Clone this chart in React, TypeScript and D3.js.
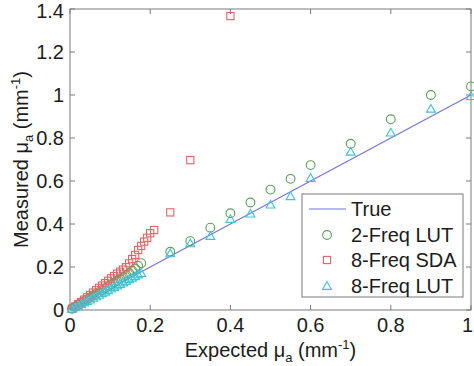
import React from "react";
import * as d3 from "d3";

const xTicks = [0, 0.2, 0.4, 0.6, 0.8, 1];
const yTicks = [0, 0.2, 0.4, 0.6, 0.8, 1, 1.2, 1.4];
const xTickLabels = ["0", "0.2", "0.4", "0.6", "0.8", "1"];
const yTickLabels = ["0", "0.2", "0.4", "0.6", "0.8", "1", "1.2", "1.4"];

const trueX = [0, 1];
const trueY = [0, 1];

const lut2X = [0.005, 0.0125, 0.02, 0.0275, 0.035, 0.0425, 0.05, 0.0575, 0.065, 0.0725, 0.08, 0.0875, 0.095, 0.1025, 0.11, 0.1175, 0.125, 0.1325, 0.14, 0.1475, 0.155, 0.1625, 0.17, 0.1775,
  0.25, 0.3, 0.35, 0.4, 0.45, 0.5, 0.55, 0.6, 0.7, 0.8, 0.9, 1.0];
const lut2Y = [0.006, 0.014, 0.023, 0.031, 0.040, 0.049, 0.057, 0.066, 0.075, 0.083, 0.092, 0.101, 0.109, 0.119, 0.127, 0.136, 0.145, 0.154, 0.163, 0.172, 0.183, 0.193, 0.205, 0.218,
  0.271, 0.32, 0.383, 0.45, 0.5, 0.56, 0.61, 0.674, 0.773, 0.887, 1.0, 1.04];

const sdaX = [0.005, 0.0125, 0.02, 0.0275, 0.035, 0.0425, 0.05, 0.0575, 0.065, 0.0725, 0.08, 0.0875, 0.095, 0.1025, 0.11, 0.1175, 0.125, 0.1325, 0.14, 0.1475, 0.155, 0.1625, 0.17, 0.1775, 0.185, 0.1925, 0.2, 0.21, 0.25, 0.3, 0.4];
const sdaY = [0.006, 0.016, 0.027, 0.037, 0.048, 0.059, 0.070, 0.081, 0.092, 0.103, 0.114, 0.125, 0.136, 0.147, 0.158, 0.169, 0.178, 0.188, 0.199, 0.217, 0.237, 0.256, 0.279, 0.298, 0.318, 0.336, 0.357, 0.372, 0.454, 0.697, 1.367];

const lut8X = [0.005, 0.0125, 0.02, 0.0275, 0.035, 0.0425, 0.05, 0.0575, 0.065, 0.0725, 0.08, 0.0875, 0.095, 0.1025, 0.11, 0.1175, 0.125, 0.1325, 0.14, 0.1475, 0.155, 0.1625, 0.17, 0.1775,
  0.25, 0.3, 0.35, 0.4, 0.45, 0.5, 0.55, 0.6, 0.7, 0.8, 0.9, 1.0];
const lut8Y = [0.005, 0.012, 0.019, 0.027, 0.034, 0.041, 0.048, 0.056, 0.063, 0.070, 0.078, 0.085, 0.092, 0.099, 0.107, 0.114, 0.121, 0.128, 0.135, 0.143, 0.150, 0.157, 0.165, 0.172,
  0.263, 0.31, 0.344, 0.423, 0.448, 0.49, 0.529, 0.614, 0.736, 0.825, 0.936, 0.995];

const legendLabels = ["True", "2-Freq LUT", "8-Freq SDA", "8-Freq LUT"];

const W = 474, H = 366;
const L = 70, R = 471, T = 9, B = 310;
const FONT = "Liberation Sans, Arial, sans-serif";
const C_LINE = "#7474e4";
const C_GREEN = "#5aa05a";
const C_RED = "#e26464";
const C_CYAN = "#40c4d4";
const C_AX = "#7a7a7a";
const C_TXT = "#1c1c1c";

export default function App() {
  const x = d3.scaleLinear().domain([0, 1]).range([L, R]);
  const y = d3.scaleLinear().domain([0, 1.4]).range([B, T]);
  const line = d3.line<number>().x((d, i) => x(trueX[i])).y((d, i) => y(d));
  const tri = d3.symbol().type(d3.symbolTriangle).size(34)() as string;
  const tk = 5;

  const circle = (cx: number, cy: number, k: string) => (
    <circle key={k} cx={cx} cy={cy} r={4.4} fill="none" stroke={C_GREEN} strokeWidth={1.1} />
  );
  const square = (cx: number, cy: number, k: string) => (
    <rect key={k} x={cx - 3.6} y={cy - 3.6} width={7.2} height={7.2} fill="none" stroke={C_RED} strokeWidth={1.1} />
  );
  const triangle = (cx: number, cy: number, k: string) => (
    <path key={k} d={tri} transform={`translate(${cx},${cy + 0.8})`} fill="none" stroke={C_CYAN} strokeWidth={1.1} />
  );

  const lx = 302, ly = 194, lw = 161, lh = 103;
  const rows = [209, 235, 260, 286];

  return (
    <svg width={W} height={H} style={{ position: "absolute", left: 0, top: 0 }} fontFamily={FONT}>
      <rect x={0} y={0} width={W} height={H} fill="#fff" />
      <rect x={L} y={T} width={R - L} height={B - T} fill="#fff" stroke={C_AX} strokeWidth={1} />
      {xTicks.map((t, i) => (
        <g key={"xt" + i}>
          <line x1={x(t)} x2={x(t)} y1={B} y2={B - tk} stroke={C_AX} />
          <line x1={x(t)} x2={x(t)} y1={T} y2={T + tk} stroke={C_AX} />
          <text x={i === xTicks.length - 1 ? W - 1 : x(t)} y={332} textAnchor={i === xTicks.length - 1 ? "end" : "middle"} fontSize={20} fill={C_TXT}>{xTickLabels[i]}</text>
        </g>
      ))}
      {yTicks.map((t, i) => (
        <g key={"yt" + i}>
          <line x1={L} x2={L + tk} y1={y(t)} y2={y(t)} stroke={C_AX} />
          <line x1={R} x2={R - tk} y1={y(t)} y2={y(t)} stroke={C_AX} />
          <text x={64} y={Math.max(y(t) + 7, 18)} textAnchor="end" fontSize={20} fill={C_TXT}>{yTickLabels[i]}</text>
        </g>
      ))}
      <path d={line(trueY) || ""} fill="none" stroke={C_LINE} strokeWidth={1.2} />
      {lut2X.map((v, i) => circle(x(v), y(lut2Y[i]), "c" + i))}
      {sdaX.map((v, i) => square(x(v), y(sdaY[i]), "s" + i))}
      {lut8X.map((v, i) => triangle(x(v), y(lut8Y[i]), "t" + i))}

      <rect x={lx} y={ly} width={lw} height={lh} fill="#fff" stroke={C_AX} strokeWidth={1} />
      <line x1={309} x2={346} y1={rows[0]} y2={rows[0]} stroke={C_LINE} strokeWidth={1.2} />
      {circle(327, rows[1], "lc")}
      {square(327, rows[2], "ls")}
      {triangle(327, rows[3], "lt")}
      {legendLabels.map((s, i) => (
        <text key={"lg" + i} x={351} y={rows[i] + 7} fontSize={20} fill={C_TXT}>{s}</text>
      ))}

      <text x={(L + R) / 2} y={357} textAnchor="middle" fontSize={20} fill={C_TXT}>
        Expected μ<tspan fontSize={13} dy={5}>a</tspan><tspan dy={-5}> (mm</tspan><tspan fontSize={13} dy={-8}>-1</tspan><tspan dy={8}>)</tspan>
      </text>
      <text transform={`translate(28,${(T + B) / 2}) rotate(-90)`} textAnchor="middle" fontSize={20} fill={C_TXT}>
        Measured μ<tspan fontSize={13} dy={5}>a</tspan><tspan dy={-5}> (mm</tspan><tspan fontSize={13} dy={-8}>-1</tspan><tspan dy={8}>)</tspan>
      </text>
    </svg>
  );
}
